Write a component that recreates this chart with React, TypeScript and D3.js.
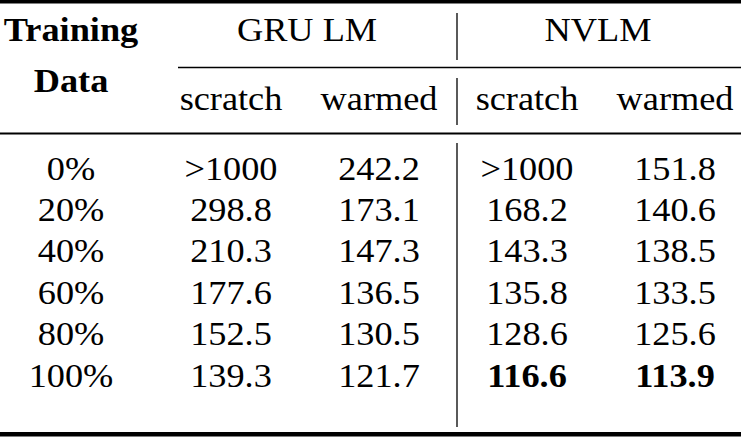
import React, { useEffect, useRef } from "react";
import * as d3 from "d3";

const trainingData = ["0%", "20%", "40%", "60%", "80%", "100%"];
const models = ["GRU LM", "NVLM"];
const variants = ["scratch", "warmed"];
// NaN stands for ">1000"
const gruScratch = [NaN, 298.8, 210.3, 177.6, 152.5, 139.3];
const gruWarmed = [242.2, 173.1, 147.3, 136.5, 130.5, 121.7];
const nvlmScratch = [NaN, 168.2, 143.3, 135.8, 128.6, 116.6];
const nvlmWarmed = [151.8, 140.6, 138.5, 133.5, 125.6, 113.9];
const bestRow = 5; // bold NVLM entries

const W = 741;
const H = 440;
const FS = 33;
const SX = 1.1;
const FONT = "Liberation Serif";

export default function App() {
  const ref = useRef<SVGSVGElement | null>(null);

  useEffect(() => {
    const svg = d3.select(ref.current);
    svg.selectAll("*").remove();

    const cols = ["label", "gs", "gw", "ns", "nw"];
    const x = d3.scaleOrdinal<string, number>().domain(cols).range([71, 231, 379, 527, 675]);
    const y = d3.scaleLinear().domain([0, trainingData.length - 1]).range([179.5, 386.5]);
    const fmt = (v: number) => (isNaN(v) ? ">1000" : d3.format(".1f")(v));
    const vx = 457;

    svg.append("rect").attr("width", W).attr("height", H).attr("fill", "#fff");

    const put = (tx: number, ty: number, s: string, bold = false) => {
      svg
        .append("text")
        .attr("transform", `translate(${tx},${ty}) scale(${SX},1)`)
        .attr("text-anchor", "middle")
        .attr("font-family", FONT)
        .style("font-family", FONT)
        .attr("font-size", FS)
        .attr("font-weight", bold ? "bold" : "normal")
        .attr("fill", "#000")
        .text(s);
    };

    // rules
    svg.append("rect").attr("x", 0).attr("y", 0).attr("width", W).attr("height", 3.5).attr("fill", "#000");
    svg.append("line").attr("x1", 178).attr("x2", W).attr("y1", 67.5).attr("y2", 67.5).attr("stroke", "#000").attr("stroke-width", 1.3);
    svg.append("line").attr("x1", 0).attr("x2", W).attr("y1", 133.5).attr("y2", 133.5).attr("stroke", "#000").attr("stroke-width", 2);
    svg.append("rect").attr("x", 0).attr("y", 432).attr("width", W).attr("height", 4.5).attr("fill", "#000");
    // vertical separator segments
    [[13, 60], [78, 125], [143, 427]].forEach(([a, b]) =>
      svg.append("line").attr("x1", vx).attr("x2", vx).attr("y1", a).attr("y2", b).attr("stroke", "#000").attr("stroke-width", 1.3)
    );

    // header
    put(71, 41, "Training", true);
    put(71, 92, "Data", true);
    put(307, 41, models[0]);
    put(598, 41, models[1]);
    put(x("gs"), 110, variants[0]);
    put(x("gw"), 110, variants[1]);
    put(x("ns"), 110, variants[0]);
    put(x("nw"), 110, variants[1]);

    // body
    trainingData.forEach((r, i) => put(x("label"), y(i), r));
    const series = [
      { key: "gs", vals: gruScratch, bold: false },
      { key: "gw", vals: gruWarmed, bold: false },
      { key: "ns", vals: nvlmScratch, bold: true },
      { key: "nw", vals: nvlmWarmed, bold: true },
    ];
    series.forEach((s) => s.vals.forEach((v, i) => put(x(s.key), y(i), fmt(v), s.bold && i === bestRow)));
  }, []);

  return <svg ref={ref} width={W} height={H} style={{ position: "absolute", left: 0, top: 0 }} />;
}
